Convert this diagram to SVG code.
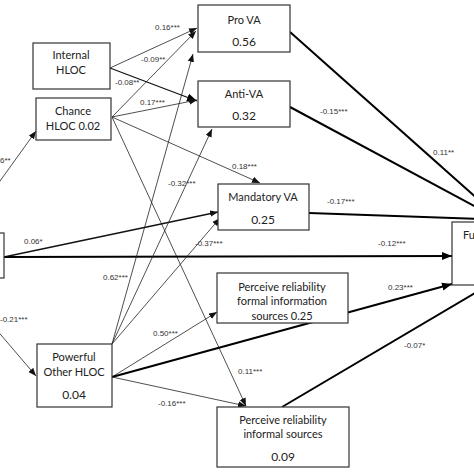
<svg xmlns="http://www.w3.org/2000/svg" width="474" height="474" viewBox="0 0 474 474">
<style>
.box{fill:#fff;stroke:#333;stroke-width:1.2}
.t{font-family:Lato,"Open Sans","Liberation Sans",sans-serif;font-size:11px;fill:#222;text-anchor:middle}
.v{font-size:12px}
.lb{font-family:"Liberation Sans",Arial,sans-serif;font-size:8px;fill:#333}
.th{stroke:#222;stroke-width:0.8;fill:none}
.md{stroke:#111;stroke-width:1.3;fill:none}
.tk{stroke:#000;stroke-width:2;fill:none}
</style>
<defs>
<marker id="a" markerUnits="userSpaceOnUse" markerWidth="9" markerHeight="8" refX="8" refY="4" orient="auto"><path d="M0,0.8 L8,4 L0,7.2 Z" fill="#111"/></marker>
<marker id="b" markerUnits="userSpaceOnUse" markerWidth="11" markerHeight="10" refX="10" refY="5" orient="auto"><path d="M0,1 L10,5 L0,9 Z" fill="#000"/></marker>
</defs>
<rect width="474" height="474" fill="#fff"/>
<g id="connectors">
<line class="th" x1="110" y1="68" x2="197" y2="28" marker-end="url(#a)"/>
<line class="md" x1="110" y1="68" x2="197" y2="101" marker-end="url(#b)"/>
<line class="th" x1="112" y1="117" x2="196" y2="31" marker-end="url(#a)"/>
<line class="th" x1="112" y1="117" x2="197" y2="100" marker-end="url(#a)"/>
<line class="th" x1="112" y1="117" x2="260" y2="183" marker-end="url(#a)"/>
<line class="th" x1="112" y1="117" x2="246" y2="406" marker-end="url(#a)"/>
<line class="th" x1="-5" y1="188" x2="36" y2="131" marker-end="url(#a)"/>
<line class="th" x1="-5" y1="328" x2="36" y2="376" marker-end="url(#a)"/>
<line class="md" x1="4" y1="257" x2="218" y2="212" marker-end="url(#a)"/>
<line class="tk" x1="4" y1="257" x2="452" y2="256" marker-end="url(#b)"/>
<line class="th" x1="112" y1="344" x2="193" y2="54" marker-end="url(#a)"/>
<line class="th" x1="112" y1="344" x2="212" y2="129" marker-end="url(#a)"/>
<line class="th" x1="112" y1="344" x2="220" y2="218" marker-end="url(#a)"/>
<line class="th" x1="112" y1="377" x2="217" y2="312" marker-end="url(#a)"/>
<line class="tk" x1="112" y1="377" x2="452" y2="284" marker-end="url(#b)"/>
<line class="th" x1="112" y1="377" x2="246" y2="406" marker-end="url(#a)"/>
<line class="tk" x1="290" y1="32" x2="480" y2="201"/>
<line class="tk" x1="290" y1="107" x2="480" y2="209"/>
<line class="tk" x1="309" y1="213" x2="480" y2="219"/>
<line class="tk" x1="282" y1="407" x2="480" y2="290"/>
</g>
<g id="labels">
<text class="lb" x="155" y="30">0.16***</text>
<text class="lb" x="115" y="85">-0.08**</text>
<text class="lb" x="141" y="62">-0.09**</text>
<text class="lb" x="140" y="105">0.17***</text>
<text class="lb" x="232" y="169">0.18***</text>
<text class="lb" x="238" y="374">0.11***</text>
<text class="lb" x="0" y="163">6**</text>
<text class="lb" x="0" y="322">-0.21***</text>
<text class="lb" x="24" y="244">0.06*</text>
<text class="lb" x="378" y="246">-0.12***</text>
<text class="lb" x="103" y="280">0.62***</text>
<text class="lb" x="168" y="186">-0.32***</text>
<text class="lb" x="195" y="246">-0.37***</text>
<text class="lb" x="153" y="336">0.50***</text>
<text class="lb" x="388" y="290">0.23***</text>
<text class="lb" x="158" y="406">-0.16***</text>
<text class="lb" x="433" y="155">0.11**</text>
<text class="lb" x="320" y="114">-0.15***</text>
<text class="lb" x="327" y="204">-0.17***</text>
<text class="lb" x="404" y="348">-0.07*</text>
</g>
<g id="left-node"><rect class="box" x="-50" y="233" width="54" height="45"/></g>
<g id="pro-va"><rect class="box" x="198" y="5" width="92" height="47"/><text class="t" x="244" y="24">Pro VA</text><text class="t v" x="244" y="46">0.56</text></g>
<g id="anti-va"><rect class="box" x="198" y="81" width="92" height="46"/><text class="t" x="244" y="98">Anti-VA</text><text class="t v" x="244" y="120">0.32</text></g>
<g id="internal-hloc"><rect class="box" x="33" y="43" width="77" height="46"/><text class="t" x="71" y="59">Internal</text><text class="t" x="71" y="74">HLOC</text></g>
<g id="chance-hloc"><rect class="box" x="36" y="98" width="75" height="42"/><text class="t" x="73" y="115">Chance</text><text class="t" x="73" y="130">HLOC 0.02</text></g>
<g id="mandatory-va"><rect class="box" x="218" y="184" width="91" height="46"/><text class="t" x="263" y="201">Mandatory VA</text><text class="t v" x="263" y="224">0.25</text></g>
<g id="fu"><rect class="box" x="452" y="222" width="40" height="63"/><text class="t" x="463" y="239" style="text-anchor:start">Fu</text></g>
<g id="formal"><rect class="box" x="217" y="273" width="131" height="50"/><text class="t" x="282" y="291">Perceive reliability</text><text class="t" x="282" y="305">formal information</text><text class="t" x="282" y="320">sources 0.25</text></g>
<g id="powerful-hloc"><rect class="box" x="37" y="344" width="75" height="63"/><text class="t" x="74" y="361">Powerful</text><text class="t" x="74" y="376">Other HLOC</text><text class="t v" x="74" y="399">0.04</text></g>
<g id="informal"><rect class="box" x="217" y="407" width="132" height="60"/><text class="t" x="283" y="424">Perceive reliability</text><text class="t" x="283" y="438">informal sources</text><text class="t v" x="283" y="461">0.09</text></g>
</svg>
